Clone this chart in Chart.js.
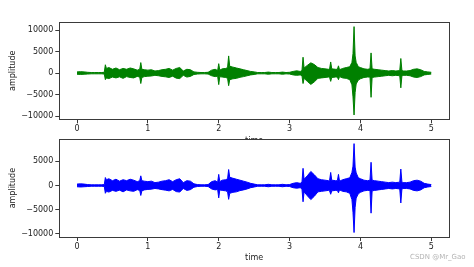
<!DOCTYPE html>
<html lang="en">
<head>
<meta charset="UTF-8">
<title>waveform</title>
<script src="https://cdn.jsdelivr.net/npm/chart.js@4.4.0/dist/chart.umd.min.js"></script>
<style>
  body { margin: 0; background: #fff; }
  #wrap { position: relative; width: 474px; height: 267px; }
  canvas { position: absolute; left: 0; top: 0; }
  #mark { position: absolute; left: 410px; top: 253px; font: 7px "DejaVu Sans", sans-serif; color: #b4b4b4; white-space: nowrap; }
</style>
</head>
<body>
<div id="wrap">
  <canvas id="top_chart" width="474" height="267"></canvas>
  <canvas id="bottom_chart" width="474" height="267"></canvas>
  <div id="mark">CSDN @Mr_Gao</div>
</div>
<script>
// time (s) of each envelope sample, extra points around the spikes
const time = [
  0, 0.05, 0.10, 0.15, 0.20, 0.25, 0.30, 0.35, 0.385, 0.40, 0.415, 0.45, 0.50, 0.55, 0.60, 0.65, 0.70, 0.75, 0.80, 0.85, 0.885, 0.90, 0.915, 0.95,
  1.00, 1.05, 1.10, 1.15, 1.20, 1.25, 1.30, 1.35, 1.40, 1.45, 1.50, 1.55, 1.60, 1.65, 1.70, 1.75, 1.80, 1.85, 1.90, 1.95, 1.985,
  2.00, 2.015, 2.05, 2.10, 2.125, 2.14, 2.155, 2.20, 2.25, 2.30, 2.35, 2.40, 2.45, 2.50, 2.55, 2.60, 2.65, 2.70, 2.75, 2.80, 2.85, 2.90, 2.95,
  3.00, 3.05, 3.10, 3.15, 3.175, 3.19, 3.205, 3.25, 3.30, 3.35, 3.40, 3.45, 3.50, 3.55, 3.565, 3.58, 3.595, 3.65, 3.675, 3.69, 3.705, 3.75, 3.80, 3.85, 3.88, 3.895, 3.91, 3.925, 3.94, 3.97,
  4.00, 4.05, 4.10, 4.135, 4.15, 4.165, 4.20, 4.25, 4.30, 4.35, 4.40, 4.45, 4.50, 4.555, 4.57, 4.585, 4.60, 4.65, 4.70, 4.75, 4.80, 4.85, 4.90, 4.95, 5.00
];

// green (top) waveform envelope
const greenHigh = [
  300, 350, 300, 200, 150, 150, 150, 150, 200, 1950, 1100, 1300, 900, 1200, 800, 1100, 900, 1200, 1000, 700, 900, 2450, 900, 800,
  700, 800, 500, 600, 800, 900, 1100, 700, 1100, 1300, 500, 900, 800, 300, 200, 150, 150, 200, 700, 900, 600,
  2200, 700, 1000, 1100, 1300, 4000, 1600, 1400, 1200, 1000, 800, 600, 400, 300, 150, 150, 150, 250, 150, 150, 150, 250, 150,
  200, 400, 550, 400, 600, 3700, 1200, 1800, 2400, 2000, 1300, 1100, 1000, 900, 1000, 2600, 1000, 900, 900, 1700, 800, 1100, 1300, 1500, 2500, 4500, 10800, 4000, 2500, 1500,
  1300, 1000, 900, 1000, 4700, 1000, 900, 800, 700, 600, 500, 600, 500, 600, 3400, 700, 500, 500, 600, 900, 1000, 800, 400, 300, 200
];
const greenLow = [
  -250, -300, -250, -200, -150, -150, -150, -150, -200, -1500, -1100, -1250, -900, -1100, -850, -1200, -800, -1000, -1100, -750, -900, -2400, -1000, -800,
  -700, -650, -500, -600, -750, -850, -1000, -700, -1150, -1250, -500, -900, -750, -300, -200, -150, -150, -200, -600, -800, -700,
  -2650, -800, -900, -1000, -1200, -2900, -1500, -1300, -1200, -950, -800, -600, -400, -300, -150, -150, -150, -250, -150, -150, -150, -250, -150,
  -200, -400, -500, -400, -600, -2400, -1200, -1900, -2600, -2000, -1200, -1100, -1000, -900, -1000, -1900, -1000, -900, -900, -1500, -800, -1100, -1200, -1500, -2700, -5500, -9700, -4500, -2500, -1600,
  -1300, -1000, -900, -900, -5600, -1000, -900, -800, -700, -600, -500, -600, -500, -600, -3400, -700, -500, -500, -600, -900, -1000, -800, -400, -300, -200
];

// blue (bottom) waveform envelope
const blueHigh = [
  300, 350, 300, 200, 150, 150, 150, 150, 200, 1650, 1200, 1400, 1000, 1300, 900, 1200, 1000, 1300, 1100, 800, 1000, 2000, 1000, 900,
  800, 900, 600, 700, 900, 1000, 1200, 800, 1200, 1400, 600, 1000, 900, 350, 200, 150, 150, 200, 800, 1000, 700,
  2300, 800, 1100, 1200, 1400, 3300, 1700, 1500, 1300, 1100, 900, 700, 450, 300, 150, 150, 150, 250, 150, 150, 150, 250, 150,
  200, 450, 600, 450, 700, 3550, 1300, 2000, 2900, 2200, 1400, 1200, 1100, 1000, 1100, 2700, 1100, 1000, 1000, 2300, 900, 1200, 1400, 1600, 2700, 4000, 8650, 3800, 2600, 1600,
  1400, 1100, 1000, 1100, 4800, 1100, 1000, 900, 800, 700, 600, 700, 600, 700, 3400, 800, 600, 600, 700, 1000, 1100, 900, 450, 300, 200
];
const blueLow = [
  -250, -300, -250, -200, -150, -150, -150, -150, -200, -1600, -1200, -1350, -1000, -1200, -950, -1300, -900, -1100, -1200, -850, -1000, -2050, -1100, -900,
  -800, -750, -600, -700, -850, -950, -1100, -800, -1250, -1350, -600, -1000, -850, -350, -200, -150, -150, -200, -700, -900, -800,
  -2550, -900, -1000, -1100, -1300, -2850, -1600, -1400, -1300, -1050, -900, -700, -450, -300, -150, -150, -150, -250, -150, -150, -150, -250, -150,
  -200, -450, -550, -450, -700, -3350, -1300, -2100, -2900, -2200, -1300, -1200, -1100, -1000, -1100, -1800, -1100, -1000, -1000, -1500, -900, -1200, -1300, -1600, -2900, -5500, -9700, -4500, -2600, -1700,
  -1400, -1100, -1000, -1000, -5700, -1100, -1000, -900, -800, -700, -600, -700, -600, -700, -3600, -800, -600, -600, -700, -1000, -1100, -900, -450, -300, -200
];

const xTicks = [0, 1, 2, 3, 4, 5];
const yTicksTop = [-10000, -5000, 0, 5000, 10000];
const yTicksBottom = [-10000, -5000, 0, 5000];

const FONT = { family: 'DejaVu Sans', size: 8 };
const TXT = '#222';

function fmt(v) {
  return v < 0 ? '\u2212' + Math.abs(v) : '' + v;
}

// white axes face + 4 spines like matplotlib
const axesBox = {
  id: 'axesBox',
  beforeDraw(chart) {
    const a = chart.chartArea, ctx = chart.ctx;
    ctx.save();
    ctx.fillStyle = '#fff';
    ctx.fillRect(a.left, a.top, a.right - a.left, a.bottom - a.top);
    ctx.restore();
  },
  afterDraw(chart) {
    const a = chart.chartArea, ctx = chart.ctx;
    ctx.save();
    ctx.strokeStyle = '#3a3a3a';
    ctx.lineWidth = 1;
    ctx.strokeRect(Math.round(a.left) + 0.5, Math.round(a.top) + 0.5, Math.round(a.right - a.left), Math.round(a.bottom - a.top));
    ctx.restore();
  }
};

function wave(id, high, low, color, yMin, yMax, yTicks, pad, xAxisH) {
  var ctx = document.getElementById(id).getContext('2d');
  return new Chart(ctx, {
    type: 'line',
    data: {
      datasets: [{
        data: time.map((t, i) => ({ x: t, y: high[i] })),
        borderColor: color, backgroundColor: color,
        borderWidth: 1, pointRadius: 0, tension: 0, fill: false
      }, {
        data: time.map((t, i) => ({ x: t, y: low[i] })),
        borderColor: color, backgroundColor: color,
        borderWidth: 1, pointRadius: 0, tension: 0, fill: '-1'
      }]
    },
    options: {
      responsive: false,
      animation: false,
      events: [],
      layout: { padding: pad },
      plugins: { legend: { display: false }, tooltip: { enabled: false } },
      scales: {
        x: {
          type: 'linear', min: -0.25, max: 5.25,
          afterBuildTicks: s => { s.ticks = xTicks.map(v => ({ value: v })); },
          afterFit: s => { s.height = xAxisH; },
          border: { display: false },
          grid: { drawOnChartArea: false, drawTicks: true, tickLength: 4, color: '#3a3a3a' },
          ticks: { font: FONT, color: TXT, padding: 1, maxRotation: 0, callback: v => fmt(v) },
          title: { display: true, text: 'time', font: FONT, color: TXT, padding: { top: 0, bottom: 4 } }
        },
        y: {
          min: yMin, max: yMax,
          afterBuildTicks: s => { s.ticks = yTicks.map(v => ({ value: v })); },
          afterFit: s => { s.width = 59.3; },
          border: { display: false },
          grid: { drawOnChartArea: false, drawTicks: true, tickLength: 4, color: '#3a3a3a' },
          ticks: { font: FONT, color: TXT, padding: 2, callback: v => fmt(v) },
          title: { display: true, text: 'amplitude', font: FONT, color: TXT, padding: { top: 8, bottom: 0 } }
        }
      }
    },
    plugins: [axesBox]
  });
}

wave('top_chart', greenHigh, greenLow, '#008000', -10700, 11800, yTicksTop, { top: 22.3, right: 25, bottom: 117, left: 0 }, 30.7);
wave('bottom_chart', blueHigh, blueLow, '#0000ff', -10620, 9540, yTicksBottom, { top: 139.3, right: 25, bottom: 0, left: 0 }, 30);
</script>
</body>
</html>
